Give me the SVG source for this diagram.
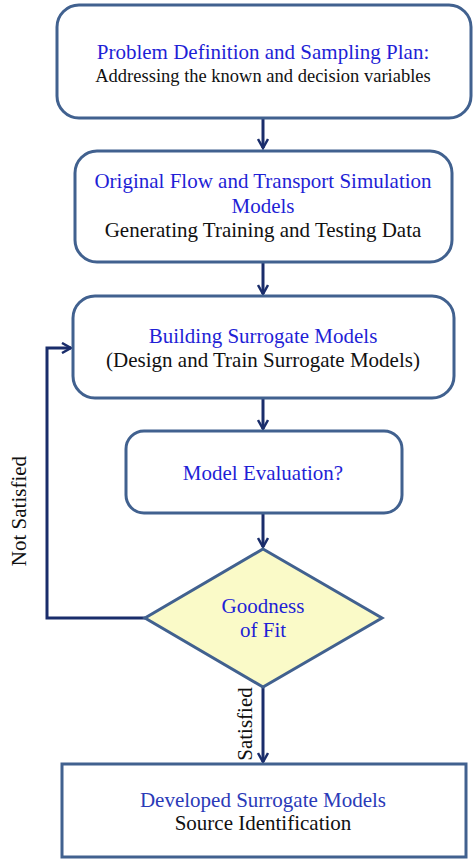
<svg xmlns="http://www.w3.org/2000/svg" width="474" height="860" viewBox="0 0 474 860">
<style>
text{font-family:"Liberation Serif","Times New Roman",serif;font-size:21px;text-anchor:middle}
.b{fill:#1f1fd6}
.k{fill:#111}
.box{fill:#fff;stroke:#41618f;stroke-width:3}
.c{fill:none;stroke:#1a2d6b;stroke-width:3}
</style>
<defs>
<marker id="ah" viewBox="0 0 12 12" refX="10" refY="6" markerWidth="12" markerHeight="12" markerUnits="userSpaceOnUse" orient="auto">
<path d="M1,1 L10,6 L1,11" fill="none" stroke="#1a2d6b" stroke-width="2.5"/>
</marker>
</defs>
<rect width="474" height="860" fill="#fff"/>
<g id="connectors">
<line class="c" x1="263" y1="118" x2="263" y2="148" marker-end="url(#ah)"/>
<line class="c" x1="263" y1="262" x2="263" y2="294" marker-end="url(#ah)"/>
<line class="c" x1="263" y1="398" x2="263" y2="429" marker-end="url(#ah)"/>
<line class="c" x1="263" y1="513" x2="263" y2="547" marker-end="url(#ah)"/>
<polyline class="c" points="145,618 47,618 47,348 71,348" marker-end="url(#ah)"/>
<line class="c" x1="263" y1="687" x2="263" y2="762" marker-end="url(#ah)"/>
<text class="k" transform="translate(26,511) rotate(-90)">Not Satisfied</text>
<text class="k" transform="translate(252,724) rotate(-90)">Satisfied</text>
</g>
<g id="n1">
<rect class="box" x="57" y="5" width="414" height="113" rx="22"/>
<text class="b" x="263" y="59">Problem Definition and Sampling Plan:</text>
<text class="k" x="263" y="82" style="font-size:18.5px">Addressing the known and decision variables</text>
</g>
<g id="n2">
<rect class="box" x="75" y="151" width="377" height="111" rx="22"/>
<text class="b" x="263" y="188">Original Flow and Transport Simulation</text>
<text class="b" x="263" y="213">Models</text>
<text class="k" x="263" y="237">Generating Training and Testing Data</text>
</g>
<g id="n3">
<rect class="box" x="73" y="296" width="381" height="102" rx="22"/>
<text class="b" x="263" y="343">Building Surrogate Models</text>
<text class="k" x="263" y="367">(Design and Train Surrogate Models)</text>
</g>
<g id="n4">
<rect class="box" x="126" y="431" width="276" height="82" rx="18"/>
<text class="b" x="263" y="480">Model Evaluation?</text>
</g>
<g id="n5">
<polygon points="263,549 382,618 263,687 145,618" fill="#fafac8" stroke="#41618f" stroke-width="3"/>
<text class="b" x="263" y="613">Goodness</text>
<text class="b" x="263" y="637">of Fit</text>
</g>
<g id="n6">
<rect class="box" x="62" y="764" width="404" height="93"/>
<text x="263" y="807" style="fill:#2a3ab8">Developed Surrogate Models</text>
<text class="k" x="263" y="830">Source Identification</text>
</g>
</svg>
